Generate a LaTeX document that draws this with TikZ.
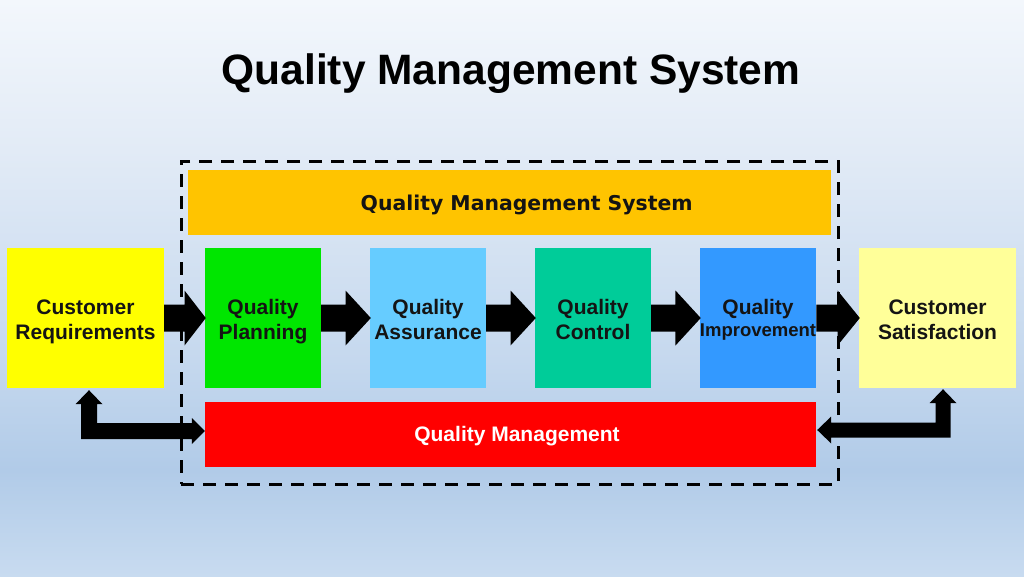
\documentclass[tikz,border=0pt]{standalone}
\usepackage{fontspec}
\setmainfont{Liberation Sans}
\newfontfamily\dejavu{DejaVu Sans}
\usetikzlibrary{calc}
\definecolor{bgA}{HTML}{F3F7FC}
\definecolor{bgB}{HTML}{E2EBF6}
\definecolor{bgC}{HTML}{C5D8EE}
\definecolor{bgD}{HTML}{B1CBE8}
\definecolor{bgE}{HTML}{C8DBF0}
\definecolor{cry}{HTML}{FFFF00}
\definecolor{qpg}{HTML}{00E600}
\definecolor{qab}{HTML}{66CCFF}
\definecolor{qct}{HTML}{00CC99}
\definecolor{qib}{HTML}{3399FF}
\definecolor{csy}{HTML}{FFFF99}
\definecolor{qmsor}{HTML}{FFC400}
\definecolor{qmred}{HTML}{FF0000}
\definecolor{txt}{HTML}{141414}
\pgfdeclareverticalshading{bgshade}{100bp}{color(0bp)=(bgE); color(25bp)=(bgE); color(34.2bp)=(bgD); color(43.75bp)=(bgC); color(62bp)=(bgB); color(75bp)=(bgA); color(100bp)=(bgA)}
\newcommand\topst[1]{\rule{0pt}{#1}}
\newcommand\botst{\rule[-5pt]{0pt}{5pt}}
\newcommand\blockarrow[2]{%
  \fill[black] let \p1=(#1.east), \p2=(#2.west), \p3=($(#1.east)!.5!(#2.west)$) in
    (\x1,\y1+13.5pt) -- (\x3,\y1+13.5pt) -- (\x3,\y1+27.5pt) -- (\x2+1pt,\y1)
    -- (\x3,\y1-27.5pt) -- (\x3,\y1-13.5pt) -- (\x1,\y1-13.5pt) -- cycle;}
\tikzset{
  box/.style={minimum width=116pt, minimum height=140pt, inner sep=0pt, align=center,
    text=txt, font={\fontsize{21}{25.5}\selectfont\bfseries}},
  bar/.style={minimum height=65pt, inner sep=0pt},
  frame/.style={draw=black, line width=3pt, dash pattern=on 13pt off 9pt, inner sep=0pt}
}
\begin{document}
\begin{tikzpicture}[x=1pt,y=-1pt]
\useasboundingbox (0,0) rectangle (1024,576);
\fill[shading=bgshade] (0,0) rectangle (1024,576);
\node[font={\fontsize{42.5}{50}\selectfont\bfseries}, anchor=base, inner sep=0pt] (title) at (511,84) {Quality Management System};
\node[frame, minimum width=657pt, minimum height=323pt] (frm) at (509.5,322.5) {};
\node[bar, minimum width=643pt, fill=qmsor] (qms) at (509.5,202.5) {};
\node[text=txt, font={\dejavu\fontsize{20.4}{24}\selectfont\bfseries}, inner sep=0pt, anchor=base] (qmst) at (526.7,210.7) {Quality Management System};
\node[box, minimum width=157pt, fill=cry] (cr) at (85.5,318) {\topst{22.5pt}Customer\\Requirements\botst};
\node[box, fill=qpg] (qp) at (263,318) {\topst{22.5pt}Quality\\Planning\botst};
\node[box, fill=qab] (qa) at (428,318) {\topst{22.5pt}Quality\\Assurance\botst};
\node[box, fill=qct] (qc) at (593,318) {\topst{22.5pt}Quality\\Control\botst};
\node[box, fill=qib] (qi) at (758,318) {\topst{19.5pt}Quality\\[-3pt]\fontsize{18.5}{22}\selectfont Improvement\botst};
\node[box, minimum width=157pt, fill=csy] (cs) at (937.5,318) {\topst{22.5pt}Customer\\Satisfaction\botst};
\node[bar, minimum width=611pt, fill=qmred] (qm) at (510.5,434.5) {};
\node[text=white, font={\fontsize{21}{25}\selectfont\bfseries}, inner sep=0pt, anchor=base] (qmt) at (517,441.7) {Quality Management};
\blockarrow{cr}{qp}
\blockarrow{qp}{qa}
\blockarrow{qa}{qc}
\blockarrow{qc}{qi}
\blockarrow{qi}{cs}
\fill[black] let \p1=(cr.south), \p2=(qm.west) in
  (\x1+3.5pt,\y1-2pt) -- (\x1+17pt,\y1-16pt) -- (\x1+11.5pt,\y1-16pt)
  -- (\x1+11.5pt,\y2+11.5pt) -- (\x2-13pt,\y2+11.5pt) -- (\x2-13pt,\y2+16.5pt)
  -- (\x2,\y2+3.5pt) -- (\x2-13pt,\y2-9.5pt) -- (\x2-13pt,\y2-4.5pt)
  -- (\x1-4.5pt,\y2-4.5pt) -- (\x1-4.5pt,\y1-16pt) -- (\x1-10pt,\y1-16pt) -- cycle;
\fill[black] let \p1=(cs.south), \p2=(qm.east) in
  (\x1+5.5pt,\y1-1pt) -- (\x1+19pt,\y1-15pt) -- (\x1+13pt,\y1-15pt)
  -- (\x1+13pt,\y2-3pt) -- (\x2+15pt,\y2-3pt) -- (\x2+15pt,\y2-9pt)
  -- (\x2+1pt,\y2+4.5pt) -- (\x2+15pt,\y2+18pt) -- (\x2+15pt,\y2+12pt)
  -- (\x1-2pt,\y2+12pt) -- (\x1-2pt,\y1-15pt) -- (\x1-8pt,\y1-15pt) -- cycle;
\end{tikzpicture}
\end{document}
